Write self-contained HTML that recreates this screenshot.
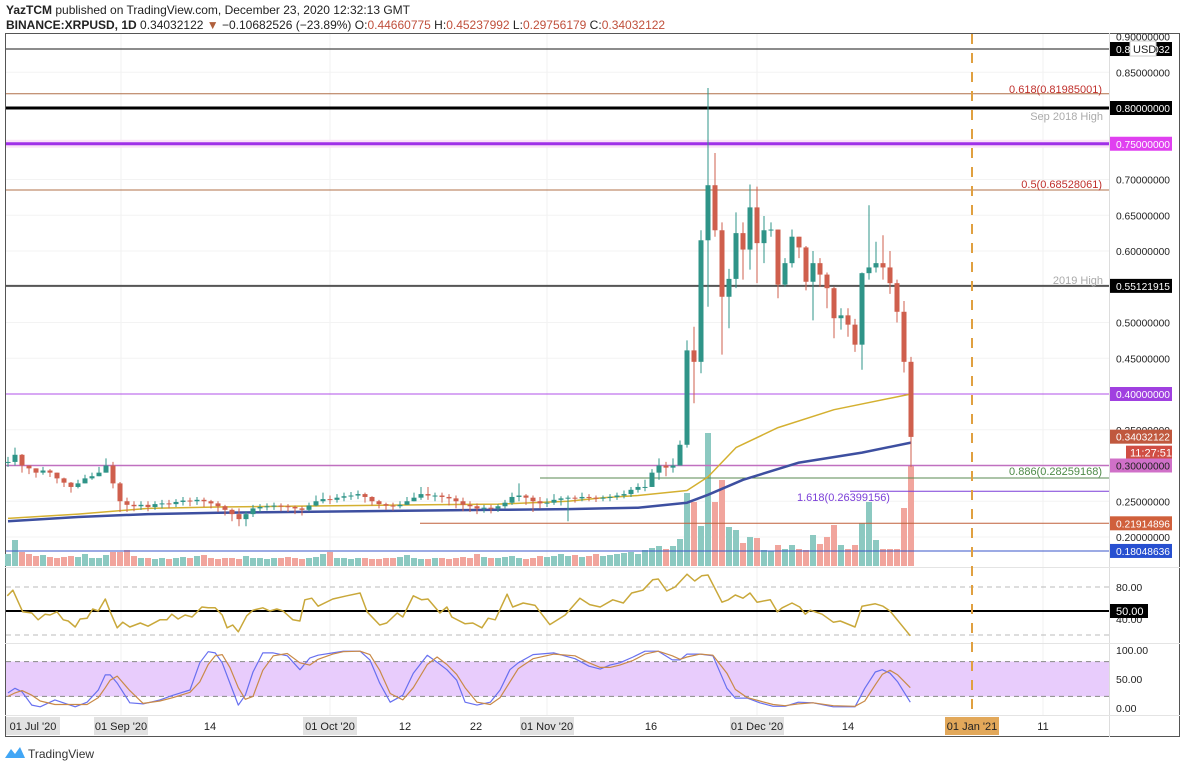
<!DOCTYPE html>
<html><head><meta charset="utf-8">
<style>
html,body{margin:0;padding:0;background:#fff;}
svg{display:block;font-family:"Liberation Sans",sans-serif;}
</style></head>
<body>
<svg id="chart" width="1185" height="768" viewBox="0 0 1185 768" xmlns="http://www.w3.org/2000/svg">
  <rect x="0" y="0" width="1185" height="768" fill="#fff"/>
  <text x="6" y="14" font-size="12" fill="#222"><tspan font-weight="bold">YazTCM</tspan> published on TradingView.com, December 23, 2020 12:32:13 GMT</text>
  <text x="6" y="29" font-size="12" fill="#222"><tspan font-weight="bold">BINANCE:XRPUSD, 1D</tspan> 0.34032122 <tspan fill="#b0603c">▼</tspan> −0.10682526 (−23.89%) O:<tspan fill="#c0503c">0.44660775</tspan> H:<tspan fill="#c0503c">0.45237992</tspan> L:<tspan fill="#c0503c">0.29756179</tspan> C:<tspan fill="#c0503c">0.34032122</tspan></text>

  <rect x="5.5" y="33.5" width="1174" height="703" fill="none" stroke="#555" stroke-width="1"/>
  <g id="grid"></g>
  <line x1="1109.5" y1="33" x2="1109.5" y2="737" stroke="#ddd"/>
  <line x1="5" y1="567.5" x2="1180" y2="567.5" stroke="#e4e4e4"/>
  <line x1="5" y1="643.5" x2="1180" y2="643.5" stroke="#e4e4e4"/>
  <line x1="5" y1="715.5" x2="1180" y2="715.5" stroke="#e4e4e4"/>

  <g id="volume"></g>
  <g id="levels"></g>
  <g id="mas"></g>
  <g id="candles"></g>
  <g id="rsi"></g>
  <g id="stoch"></g>
  <g id="axis"></g>
  <g id="timeaxis"></g>

  <line x1="972" y1="34" x2="972" y2="715" stroke="#e0a040" stroke-width="2" stroke-dasharray="10 9"/>

  <g>
    <path d="M5 758 L11 749 L15 754 L20 747 L25 758 Z" fill="#2196f3" opacity="0.85"/>
    <text x="28" y="758" font-size="12" fill="#333">TradingView</text>
  </g>
</svg>
<script>
const closes=[0.305,0.315,0.30,0.296,0.29,0.293,0.29,0.282,0.276,0.27,
0.275,0.282,0.285,0.29,0.30,0.275,0.25,0.245,0.243,0.245,
0.242,0.246,0.247,0.246,0.249,0.251,0.25,0.252,0.25,0.247,
0.243,0.238,0.232,0.225,0.232,0.24,0.242,0.243,0.244,0.243,
0.242,0.24,0.238,0.244,0.25,0.253,0.252,0.255,0.257,0.258,
0.26,0.256,0.25,0.246,0.244,0.243,0.245,0.25,0.255,0.26,
0.258,0.258,0.256,0.254,0.25,0.245,0.243,0.24,0.241,0.24,
0.243,0.248,0.256,0.258,0.255,0.25,0.247,0.248,0.252,0.254,
0.255,0.254,0.256,0.255,0.254,0.255,0.256,0.258,0.26,0.266,
0.27,0.27,0.29,0.30,0.297,0.30,0.329,0.461,0.445,0.615,
0.692,0.629,0.536,0.561,0.625,0.602,0.661,0.611,0.629,0.63,
0.553,0.583,0.62,0.605,0.557,0.583,0.567,0.548,0.506,0.51,
0.497,0.469,0.569,0.577,0.583,0.577,0.555,0.515,0.445,0.340];
const highs=[0.312,0.325,0.316,0.30,0.296,0.298,0.295,0.29,0.283,0.277,
0.28,0.287,0.29,0.298,0.31,0.305,0.277,0.255,0.25,0.25,
0.25,0.25,0.252,0.252,0.253,0.256,0.255,0.256,0.255,0.252,
0.25,0.245,0.24,0.24,0.236,0.245,0.246,0.247,0.248,0.247,
0.246,0.244,0.243,0.248,0.258,0.262,0.258,0.26,0.262,0.263,
0.265,0.262,0.257,0.252,0.248,0.248,0.25,0.256,0.262,0.27,
0.27,0.262,0.262,0.26,0.258,0.255,0.25,0.247,0.245,0.245,
0.246,0.252,0.262,0.275,0.26,0.258,0.256,0.254,0.26,0.257,
0.258,0.258,0.262,0.26,0.258,0.258,0.26,0.262,0.265,0.27,
0.275,0.28,0.295,0.31,0.305,0.31,0.335,0.475,0.494,0.629,
0.828,0.737,0.64,0.575,0.654,0.64,0.693,0.69,0.649,0.64,
0.63,0.59,0.63,0.62,0.607,0.6,0.59,0.57,0.55,0.52,
0.52,0.505,0.57,0.664,0.613,0.622,0.6,0.56,0.53,0.452];
const lows=[0.298,0.30,0.29,0.288,0.283,0.287,0.284,0.275,0.27,0.262,
0.268,0.275,0.28,0.285,0.29,0.268,0.235,0.235,0.236,0.238,
0.236,0.238,0.24,0.24,0.242,0.244,0.243,0.245,0.242,0.24,
0.235,0.23,0.222,0.215,0.215,0.228,0.235,0.237,0.238,0.236,
0.235,0.232,0.23,0.236,0.243,0.247,0.246,0.248,0.25,0.252,
0.253,0.248,0.244,0.24,0.238,0.237,0.24,0.245,0.25,0.252,
0.252,0.25,0.248,0.244,0.24,0.236,0.235,0.232,0.234,0.233,
0.235,0.24,0.245,0.25,0.245,0.235,0.24,0.242,0.245,0.244,
0.222,0.248,0.25,0.25,0.249,0.25,0.25,0.252,0.254,0.256,
0.262,0.264,0.27,0.28,0.285,0.29,0.315,0.325,0.387,0.429,
0.522,0.62,0.455,0.492,0.548,0.56,0.574,0.555,0.583,0.62,
0.534,0.55,0.577,0.59,0.545,0.503,0.55,0.52,0.478,0.49,
0.48,0.459,0.434,0.56,0.57,0.56,0.54,0.50,0.43,0.298];
const volumes=[12,26,14,12,10,11,9,8,9,10,9,12,8,8,11,14,14,16,10,8,
8,7,8,7,8,9,8,10,11,8,7,8,8,7,10,8,8,7,8,8,
9,8,7,8,9,12,14,8,8,7,8,8,7,7,8,8,9,11,8,7,
7,8,8,7,8,9,8,12,9,8,8,9,10,8,7,8,10,9,10,12,
10,11,9,10,12,10,11,12,13,14,12,16,18,20,17,20,27,
73,64,40,133,64,86,39,36,23,29,28,16,15,21,17,21,17,16,31,22,29,41,21,17,21,43,64,26,17,17,17,58,101];
const maSlowDays=[0,10,20,30,40,50,60,70,80,85,90,97,100,105,113,122,129];
const maSlowVals=[0.222,0.228,0.232,0.234,0.235,0.236,0.237,0.238,0.239,0.240,0.241,0.248,0.259,0.280,0.304,0.318,0.332];
const maFastDays=[0,10,20,30,40,50,60,70,80,85,90,97,100,104,110,118,129];
const maFastVals=[0.226,0.232,0.240,0.242,0.243,0.244,0.245,0.246,0.250,0.255,0.258,0.265,0.284,0.325,0.353,0.378,0.400];
const rsiDays=[-0.1,0.7,2.1,3.4,4.3,5.3,6,7,7.9,8.6,9.6,10.3,11.3,12.1,12.9,13.9,14.6,15.6,16.4,17.4,18.9,20,21.7,22.7,23.4,24.3,25.3,26.3,27.7,28.6,29.6,30.6,31.3,32.1,32.9,34.1,35,36.4,37.4,38.4,39.3,40.7,41.7,42.4,43.4,44.3,46.4,48.4,50.3,51.3,53.1,54.1,55.6,56.4,57.9,59.1,60,61.7,62.7,63.4,65.3,66.4,67.7,68.6,69.6,71.3,72.1,73.6,75.3,77.4,79.6,81.7,83.1,84.6,86.4,87.9,89.1,90.7,92.1,92.9,94.1,95.3,97,98.1,99.1,100,102,102.9,103.9,105,106,107,108.9,109.9,110.6,112,113.1,113.9,114.6,116.3,117.9,118.9,121,122,123.9,125,126,128.9];
const rsiVals=[69,76,49,47.5,39,46,45,49,39,37.5,30,40,41,52.5,50,65,49,29,36,30,35,31,39,39,46,40,45,42.5,55,54,54,45,29,32.5,24,44,51,54,50,52.5,50,39,37.5,64,66,56,65,69,72.5,49,32.5,35,47.5,42.5,69,64,65,47.5,55,42.5,34,35,29,41,39,71,55,60,57,33,45,66,58,55,64,60,72.5,76,89,90,75,80,96,87.5,94,95,61,64,70,66,72.5,61,64,49,54,60,55,46,51,46,36,37.5,30,56,59,56,50,19];
const kDays=[0,1,2,3.4,4.6,6.7,9.6,11.3,12.9,13.9,14.6,15.6,17.4,19.3,21.7,23.6,26,27.4,28.6,29.6,30.6,31.7,32.9,33.9,35,36.4,37.9,39.9,41.7,43.1,44.3,46.4,47.9,50.3,51.7,53.1,54.6,56.4,57.9,59.9,61.3,62.7,64.1,65.3,67,68.9,70.3,71.7,72.9,75,78,81,83,84.6,86,87.4,89.3,91,92.9,94.9,96,97,98.9,100.7,102.7,103.9,105.6,107.4,109.3,111,112.9,115,117.9,121,122.4,123.9,124.9,126,127.1,128.9];
const kVals=[26,34,28,5,2,14,2,10,31,57,57,43,9,7,14,22,31,78,97,95,78,43,5,22,62,95,95,90,66,86,91,95,98,98,83,43,10,22,60,91,79,66,48,10,5,10,31,66,78,92,95,85,72,67,74,78,88,98,98,83,83,93,93,90,34,17,17,9,3,3,10,9,2,2,34,62,66,60,45,10];
const dDays=[0,1,2,3.4,4.6,6.7,9.6,11.3,12.9,13.9,14.6,15.6,17.4,19.3,21.7,23.6,26,27.4,28.6,29.6,30.6,31.7,32.9,33.9,35,36.4,37.9,39.9,41.7,43.1,44.3,46.4,47.9,50.3,51.7,53.1,54.6,56.4,57.9,59.9,61.3,62.7,64.1,65.3,67,68.9,70.3,71.7,72.9,75,78,81,83,84.6,86,87.4,89.3,91,92.9,94.9,96,97,98.9,100.7,102.7,103.9,105.6,107.4,109.3,111,112.9,115,117.9,121,122.4,123.9,124.9,126,127.1,128.9];
const dVals=[20,26,30,22,12,6,6,6,18,35,48,55,30,8,12,18,27,45,75,90,92,70,35,15,20,65,90,94,78,74,84,93,97,98,92,65,25,14,35,75,88,75,58,35,10,6,18,45,68,85,93,90,78,70,70,74,82,93,98,90,84,88,93,91,60,32,18,12,6,4,7,9,4,3,12,40,58,65,57,35];
const priceTicks=["0.85000000","0.70000000","0.65000000","0.60000000","0.50000000","0.45000000","0.25000000","0.20000000"];
const priceTickVals=[0.85,0.70,0.65,0.60,0.50,0.45,0.25,0.20];
const rsiTicks=[80,40];
const stochTicks=[100,50,0];

const NS="http://www.w3.org/2000/svg";
const X=d=>8+7*d;
const PY=p=>537-(p-0.2)*715;
const RY=v=>611-(v-50)*0.8;
const SY=v=>708-v*0.58;
const VBASE=566;
function mk(tag,attrs,parent){const e=document.createElementNS(NS,tag);for(const k in attrs)e.setAttribute(k,attrs[k]);parent.appendChild(e);return e;}
const $=id=>document.getElementById(id);

const grid=$('grid');
[121,330,547,757,1043].forEach(gx=>{const l=mk('line',{x1:gx,y1:34,x2:gx,y2:715,stroke:'#f0f0f0'},grid);});
priceTickVals.concat([0.75,0.80,0.55,0.40,0.35,0.30]).forEach(p=>{const l=mk('line',{x1:6,y1:PY(p),x2:1109,y2:PY(p),stroke:'#f3f3f3'},grid);});

const vg=$('volume');
volumes.forEach((v,i)=>{const o=i?closes[i-1]:closes[0];const up=closes[i]>=o;
 const r=mk('rect',{x:X(i)-3,y:VBASE-v,width:6,height:v,fill:up?'#8cc9c1':'#f1a59d'},vg);
 });

const lg=$('levels');
function hline(p,x1,color,w,name){const l=mk('line',{x1:x1,y1:PY(p),x2:1109,y2:PY(p),stroke:color,'stroke-width':w},lg);return l;}
hline(0.8825,6,'#666',1.5,'level-088');
hline(0.81985,6,'#b0704a',1,'fib-0618-line');
hline(0.80,6,'#000',3,'level-080-line');
mk('rect',{x:6,y:PY(0.75)-4,width:1103,height:8,fill:'#fbe3f7'},lg);
hline(0.75,6,'#a030e8',3,'level-075-line');
hline(0.68528,6,'#b0704a',1,'fib-05-line');
hline(0.55122,6,'#555',2,'level-2019-high-line');
hline(0.40,6,'#b050e8',1,'level-040-line');
hline(0.30,6,'#c070c0',1.5,'level-030-line');
hline(0.28259,540,'#5a8a50',1,'fib-0886-line');
hline(0.26399,850,'#7b3fd8',1,'fib-1618-line');
hline(0.21915,420,'#c0603c',1,'level-0219-line');
hline(0.18049,6,'#3a56c8',1,'level-018-line');
function ltext(x,y,s,color,name,anchor){const t=mk('text',{x:x,y:y,'font-size':11,fill:color,'text-anchor':anchor||'end'},lg);t.textContent=s;}
ltext(1102,93,'0.618(0.81985001)','#c0302c','fib-0618-label');
ltext(1103,120,'Sep 2018 High','#aaa','sep-2018-high-label');
ltext(1102,188,'0.5(0.68528061)','#c0302c','fib-05-label');
ltext(1103,284,'2019 High','#aaa','2019-high-label');
ltext(1102,475,'0.886(0.28259168)','#4e8a48','fib-0886-label');
ltext(797,501,'1.618(0.26399156)','#7b3fd8','fib-1618-label','start');

const mg=$('mas');
function poly(days,vals,yf,color,w,parent,name){const pts=days.map((d,i)=>X(d).toFixed(1)+','+yf(vals[i]).toFixed(1)).join(' ');const p=mk('polyline',{points:pts,fill:'none',stroke:color,'stroke-width':w,'stroke-linejoin':'round'},parent);return p;}
poly(maFastDays,maFastVals,PY,'#d4b030',1.5,mg,'ma-fast-line');
poly(maSlowDays,maSlowVals,PY,'#3d4fa0',2.5,mg,'ma-slow-line');

const cg=$('candles');
closes.forEach((c,i)=>{const o=i?closes[i-1]:c;const up=c>=o;const col=up?'#2f9488':'#cf5f4d';
 const hi=Math.max(highs[i],o,c),lo=Math.min(lows[i],o,c);
 const w=mk('line',{x1:X(i),y1:PY(hi),x2:X(i),y2:PY(lo),stroke:col,'stroke-width':1},cg);
 
 const top=PY(Math.max(o,c)),bot=PY(Math.min(o,c));
 const b=mk('rect',{x:X(i)-2.5,y:top,width:5,height:Math.max(1,bot-top),fill:col},cg);
 });

const rg=$('rsi');
[80,20].forEach(v=>{const l=mk('line',{x1:6,y1:RY(v),x2:1109,y2:RY(v),stroke:'#bbb','stroke-dasharray':'5 4'},rg);});
const r50=mk('line',{x1:6,y1:RY(50),x2:1109,y2:RY(50),stroke:'#000','stroke-width':2},rg);

poly(rsiDays,rsiVals,RY,'#c9a83a',1.5,rg,'rsi-line');

const sg=$('stoch');
const band=mk('rect',{x:6,y:SY(80),width:1103,height:SY(20)-SY(80),fill:'#e8ccfc'},sg);

[80,20].forEach(v=>{const l=mk('line',{x1:6,y1:SY(v),x2:1109,y2:SY(v),stroke:'#888','stroke-dasharray':'5 4'},sg);});
poly(kDays,kVals,SY,'#6870f0',1.2,sg,'stoch-k-line');
poly(dDays,dVals,SY,'#c98a48',1.2,sg,'stoch-d-line');

const ag=$('axis');
function fit(t,s){if(s.length>=10){t.setAttribute('textLength','54');t.setAttribute('lengthAdjust','spacingAndGlyphs');}}
function atext(y,s,name){const t=mk('text',{x:1116,y:y+4,'font-size':10.5,fill:'#222'},ag);t.textContent=s;fit(t,s);}
priceTickVals.forEach((p,i)=>atext(PY(p),priceTicks[i],'price-tick'));
atext(PY(0.9),'0.90000000','price-tick');
atext(PY(0.35),'0.35000000','price-tick');
rsiTicks.forEach(v=>atext(RY(v),v.toFixed(2),'rsi-tick'));
stochTicks.forEach(v=>atext(SY(v),v.toFixed(2),'stoch-tick'));
function abox(p,y,s,bg,fg,name,w){const r=mk('rect',{x:1110,y:y-7,width:w||62,height:14,fill:bg},ag);
 const t=mk('text',{x:1116,y:y+4,'font-size':10.5,fill:fg},ag);t.textContent=s;fit(t,s);}
abox(0.8825,PY(0.8825),'0.88032032','#000','#fff','level-088-label');
const usd=mk('rect',{x:1130,y:PY(0.8825)-8,width:26,height:15,fill:'#fff',stroke:'#ccc'},ag);
const usdt=mk('text',{x:1133,y:PY(0.8825)+4,'font-size':11,fill:'#222'},ag);usdt.textContent='USD';
abox(0.80,PY(0.80),'0.80000000','#000','#fff','level-080-label');
abox(0.75,PY(0.75),'0.75000000','#e040f0','#fff','level-075-label');
abox(0.55122,PY(0.55122),'0.55121915','#000','#fff','level-2019-high-price-label');
abox(0.40,PY(0.40),'0.40000000','#a040e0','#fff','level-040-label');
abox(0.34032,PY(0.34032),'0.34032122','#c0583e','#fff','last-price-label');
const ctr=mk('rect',{x:1126,y:PY(0.34032)+9,width:46,height:14,fill:'#d04e44'},ag);
const ctt=mk('text',{x:1130,y:PY(0.34032)+20,'font-size':11,fill:'#fff'},ag);ctt.textContent='11:27:51';
abox(0.30,PY(0.30),'0.30000000','#d070c8','#222','level-030-label');
abox(0.21915,PY(0.21915),'0.21914896','#d0603c','#fff','level-0219-label');
abox(0.18049,PY(0.18049),'0.18048636','#2850d0','#fff','level-018-label');
const r50b=mk('rect',{x:1110,y:RY(50)-7,width:38,height:14,fill:'#000'},ag);
const r50t=mk('text',{x:1116,y:RY(50)+4,'font-size':11,fill:'#fff'},ag);r50t.textContent='50.00';

const tg=$('timeaxis');
const timeLabels=["01 Jul '20","01 Sep '20","14","01 Oct '20","12","22","01 Nov '20","16","01 Dec '20","14","01 Jan '21","11"];
const timeX=[33,121,210,330,405,476,547,651,757,848,972,1043];
const timeBox=[1,1,0,1,0,0,1,0,1,0,2,0];
timeLabels.forEach((s,i)=>{
 if(timeBox[i]){const r=mk('rect',{x:timeX[i]-27,y:717,width:54,height:18,fill:timeBox[i]===2?'#e2a85a':'#e2e2e2'},tg);}
 const t=mk('text',{x:timeX[i],y:730,'font-size':11,fill:'#222','text-anchor':'middle'},tg);t.textContent=s;});
</script>
</body></html>
